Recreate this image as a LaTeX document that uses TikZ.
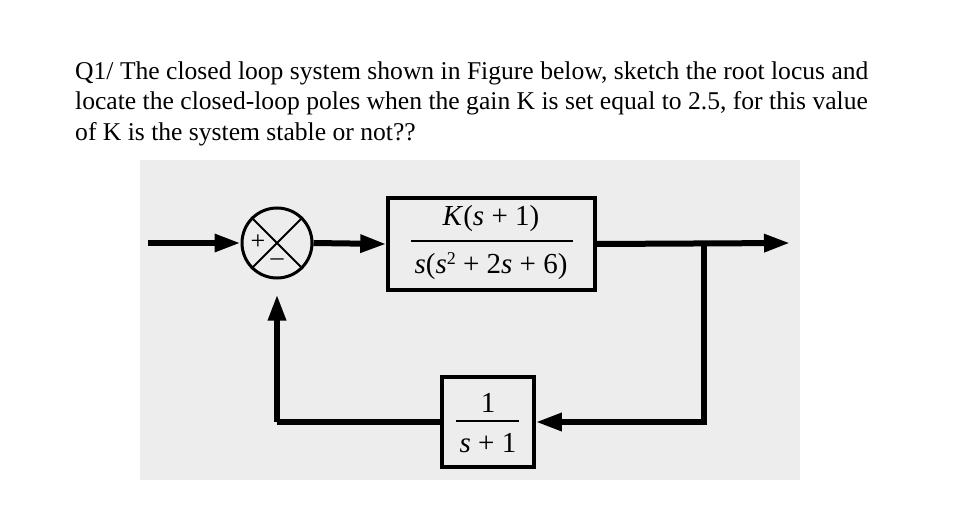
\documentclass[tikz,border=0pt]{standalone}
\usepackage{fontspec}
\setmainfont{Liberation Serif}
\usetikzlibrary{arrows.meta}
\begin{document}
\begin{tikzpicture}[x=1pt,y=-1pt,
  sig/.style={line width=6pt},
  arr/.style={-{Triangle[length=26pt,width=17pt]}},
  blk/.style={draw,line width=3.5pt,inner sep=0pt},
  qtext/.style={anchor=base west,inner sep=0pt,font=\fontsize{25.6}{30}\selectfont},
  ftext/.style={inner sep=0pt,font=\fontsize{29}{32}\selectfont}]
\useasboundingbox (0,0) rectangle (958,508);
\fill[white] (0,0) rectangle (958,508);
\fill[gray!14] (140,160) rectangle (800,480);
\node[qtext] (l1) at (75,80) {Q1/ The closed loop system shown in Figure below, sketch the root locus and};
\node[qtext] (l2) at (75,110) {locate the closed-loop poles when the gain K is set equal to 2.5, for this value};
\node[qtext] (l3) at (75,140) {of K is the system stable or not??};
% summing junction
\node[draw,line width=3pt,circle,minimum size=70pt,inner sep=0pt] (sum) at (277,243) {};
\draw[line width=1.8pt] (sum.north west) -- (sum.south east) (sum.north east) -- (sum.south west);
\node[inner sep=0pt,font=\fontsize{26}{26}\selectfont] (plus) at (258,242) {+};
\node[inner sep=0pt,font=\fontsize{26}{26}\selectfont] (minus) at (277,262) {–};
% blocks
\node[blk,minimum width=207pt,minimum height=92pt] (G) at (491.5,244) {};
\node[ftext] (Gn) at (491,219) {\textit{K}(\textit{s} + 1)};
\node[ftext] (Gd) at (491,266) {\textit{s}(\textit{s}\raisebox{9pt}{\fontsize{18}{18}\selectfont 2} + 2\textit{s} + 6)};
\draw[line width=1.8pt] (411,241) -- (573,241);
\node[blk,minimum width=92pt,minimum height=90pt] (H) at (488,422) {};
\node[ftext] (Hn) at (488,403) {1};
\node[ftext] (Hd) at (488,443) {\textit{s} + 1};
\draw[line width=1.8pt] (456,421) -- (519,421);
% signals
\coordinate (in) at (148,243);
\coordinate (out) at (790,243);
\coordinate (br) at (704,243);
\coordinate (brb) at (704,422);
\coordinate (fl) at (277,422);
\draw[sig,arr] (in) -- (sum.west);
\draw[sig,arr] (sum.east) -- (G.west);
\draw[sig,arr] (G.east) -- (out);
\draw[sig,arr] (br) -- (brb) -- (H.east);
\draw[sig] (H.west) -- (fl);
\draw[sig,arr] (fl) -- ([yshift=-15pt]sum.south);
\end{tikzpicture}
\end{document}
